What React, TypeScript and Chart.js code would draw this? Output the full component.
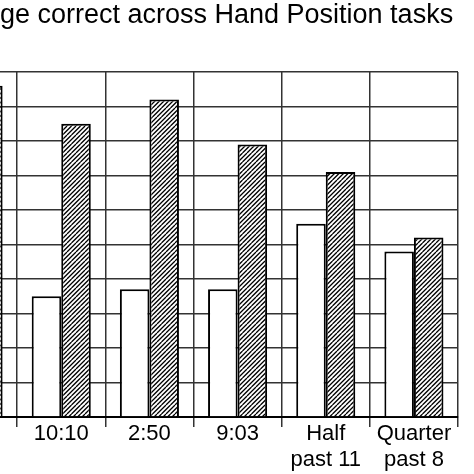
import { useEffect, useRef } from "react";
import Chart from "chart.js/auto";
import type { Chart as ChartInstance } from "chart.js";

// leftmost category is cut off in the reference, its label is a guess
const categories: (string | string[])[] = ["3:00", "10:10", "2:50", "9:03", ["Half", "past 11"], ["Quarter", "past 8"]];
const plainValues = [60, 35, 37, 37, 56, 48];
const hatchedValues = [96, 85, 92, 79, 71, 52];
const yTicks = [0, 10, 20, 30, 40, 50, 60, 70, 80, 90, 100];

const FONT = "'Liberation Sans', Arial, sans-serif";
const GRID = "#333";

function makeHatch(): CanvasPattern | string {
    const size = 9;
    const c = document.createElement("canvas");
    c.width = size;
    c.height = size;
    const g = c.getContext("2d");
    if (!g) return "#888";
    g.fillStyle = "#fff";
    g.fillRect(0, 0, size, size);
    g.strokeStyle = "#000";
    g.lineWidth = 1.3;
    g.beginPath();
    for (let k = -size; k <= size * 2; k += size / 2) {
        g.moveTo(k, size);
        g.lineTo(k + size, 0);
    }
    g.stroke();
    return g.createPattern(c, "repeat") ?? "#888";
}

export default function App() {
    const canvasRef = useRef<HTMLCanvasElement>(null);
    const chartRef = useRef<ChartInstance | null>(null);

    useEffect(() => {
        document.body.style.margin = "0";
        if (!canvasRef.current) return;
        const ctx = canvasRef.current.getContext("2d");
        if (!ctx) return;

        chartRef.current = new Chart(ctx, {
            type: "bar",
            data: {
                labels: categories,
                datasets: [
                    {
                        label: "Group 1",
                        data: plainValues,
                        backgroundColor: "#fff",
                        borderColor: "#000",
                        borderWidth: 2,
                        categoryPercentage: 0.67,
                        barPercentage: 1.0,
                    },
                    {
                        label: "Group 2",
                        data: hatchedValues,
                        backgroundColor: makeHatch(),
                        borderColor: "#000",
                        borderWidth: 2,
                        categoryPercentage: 0.67,
                        barPercentage: 1.0,
                    },
                ],
            },
            options: {
                animation: false,
                responsive: true,
                maintainAspectRatio: false,
                layout: { padding: { left: 0, right: 16, top: 0, bottom: 0 } },
                scales: {
                    x: {
                        grid: {
                            color: GRID,
                            lineWidth: 1.5,
                            offset: true,
                            tickLength: 10,
                            tickColor: GRID,
                        },
                        border: { color: "#000", width: 2 },
                        ticks: {
                            color: "#000",
                            font: { family: FONT, size: 22, lineHeight: 1.17 },
                            padding: -6,
                            maxRotation: 0,
                            autoSkip: false,
                        },
                        afterFit: (axis) => {
                            axis.height = 57;
                        },
                    },
                    y: {
                        min: 0,
                        max: 100,
                        afterBuildTicks: (axis) => {
                            axis.ticks = yTicks.map((v) => ({ value: v }));
                        },
                        grid: { color: GRID, lineWidth: 1.5 },
                        border: { color: "#000", width: 2 },
                        ticks: { color: "#000", font: { family: FONT, size: 20 } },
                        afterFit: (axis) => {
                            axis.width = 42;
                        },
                    },
                },
                plugins: {
                    legend: { display: false },
                    tooltip: { enabled: false },
                    title: {
                        display: true,
                        text: "Percentage correct across Hand Position tasks",
                        color: "#000",
                        font: { family: FONT, size: 27, weight: "normal", lineHeight: 1.2 },
                        padding: { top: -0.5, bottom: 40.1 },
                    },
                },
            },
        });

        return () => {
            if (chartRef.current) {
                chartRef.current.destroy();
                chartRef.current = null;
            }
        };
    }, []);

    return (
        <div style={{ position: "fixed", left: 0, top: 0, width: 474, height: 474, overflow: "hidden", background: "#fff" }}>
            {/* chart is wider than the window, y axis sits off to the left */}
            <div style={{ position: "absolute", left: -113, top: 0, width: 587, height: 474 }}>
                <canvas ref={canvasRef} />
            </div>
        </div>
    );
}
